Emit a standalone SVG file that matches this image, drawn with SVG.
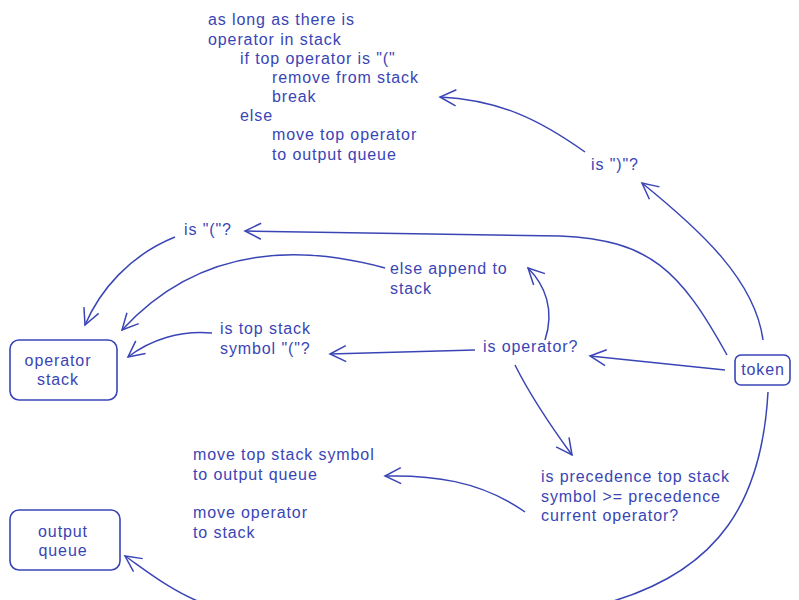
<svg xmlns="http://www.w3.org/2000/svg" width="799" height="600" viewBox="0 0 799 600">
<style>
text{font-family:"Liberation Sans",sans-serif;font-size:16px;letter-spacing:0.9px;fill:#3a45b5}
.box{fill:none;stroke:#3a45b5;stroke-width:1.6}
.c{fill:none;stroke:#3a45b5;stroke-width:1.5;marker-end:url(#a)}
</style>
<defs><marker id="a" viewBox="0 0 20 20" refX="18" refY="10" markerWidth="20" markerHeight="20" markerUnits="userSpaceOnUse" orient="auto"><path d="M2,2 L18,10 L2,18" fill="none" stroke="#3a45b5" stroke-width="1.5"/></marker></defs>
<rect width="799" height="600" fill="#fff"/>
<g id="note-close">
<text x="208" y="25">as long as there is</text>
<text x="208" y="45">operator in stack</text>
<text x="240" y="64">if top operator is "("</text>
<text x="272" y="83">remove from stack</text>
<text x="272" y="102">break</text>
<text x="240" y="121">else</text>
<text x="272" y="140">move top operator</text>
<text x="272" y="160">to output queue</text>
</g>
<g id="q-close"><text x="591" y="170">is ")"?</text></g>
<g id="q-open"><text x="184" y="235">is "("?</text></g>
<g id="else-append"><text x="390" y="274">else append to</text><text x="390" y="294">stack</text></g>
<g id="q-top"><text x="220" y="334">is top stack</text><text x="220" y="354">symbol "("?</text></g>
<g id="q-op"><text x="483" y="352">is operator?</text></g>
<g id="opstack"><rect class="box" x="10" y="340" width="107" height="60" rx="9"/><text x="58" y="366" text-anchor="middle">operator</text><text x="58" y="385" text-anchor="middle">stack</text></g>
<g id="token"><rect class="box" x="735" y="355" width="55" height="30" rx="6"/><text x="763" y="375" text-anchor="middle">token</text></g>
<g id="move-note"><text x="193" y="460">move top stack symbol</text><text x="193" y="480">to output queue</text><text x="193" y="518">move operator</text><text x="193" y="538">to stack</text></g>
<g id="q-prec"><text x="541" y="482">is precedence top stack</text><text x="541" y="502">symbol &gt;= precedence</text><text x="541" y="521">current operator?</text></g>
<g id="outq"><rect class="box" x="10" y="510" width="110" height="60" rx="9"/><text x="63" y="537" text-anchor="middle">output</text><text x="63" y="556" text-anchor="middle">queue</text></g>
<g id="connectors">
<path class="c" d="M763,340 C755,280 700,230 642,183"/>
<path class="c" d="M585,152 C540,120 500,100 440,97"/>
<path class="c" d="M727,355 C680,270 650,240 560,236 L245,231"/>
<path class="c" d="M175,237 C130,255 100,290 85,325"/>
<path class="c" d="M385,268 C300,245 200,245 122,330"/>
<path class="c" d="M545,340 C555,310 545,285 528,268"/>
<path class="c" d="M725,370 L590,356"/>
<path class="c" d="M475,350 L330,354"/>
<path class="c" d="M212,333 C180,330 150,340 128,357"/>
<path class="c" d="M515,365 C530,395 550,425 572,455"/>
<path class="c" d="M525,512 C480,480 430,475 385,476"/>
<path class="c" d="M768,392 C762,500 720,570 610,602 C500,630 280,630 200,602 C170,590 145,570 125,556"/>
</g>
</svg>
